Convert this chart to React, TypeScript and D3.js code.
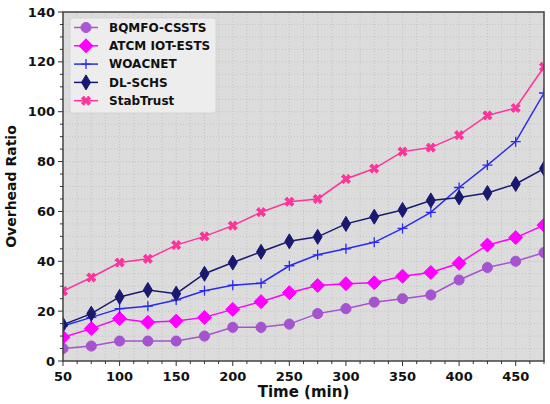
import React from 'react';
import * as d3 from 'd3';

const times = [50, 75, 100, 125, 150, 175, 200, 225, 250, 275, 300, 325, 350, 375, 400, 425, 450, 475];

const bqmfo = [5, 6, 8, 8, 8, 10, 13.5, 13.5, 14.8, 19, 21, 23.6, 25, 26.5, 32.5, 37.5, 40, 43.5];
const atcm = [9.5, 13, 17, 15.5, 16, 17.5, 20.7, 23.8, 27.4, 30.3, 31, 31.4, 34, 35.5, 39.2, 46.5, 49.5, 54.5];
const woacnet = [14, 17.5, 21, 22, 24.5, 28.2, 30.4, 31.2, 38.2, 42.6, 45, 47.6, 53.2, 59.6, 69.6, 78.6, 88, 107.5];
const dlschs = [14.5, 19, 25.7, 28.5, 27, 35, 39.5, 43.8, 48, 49.8, 55, 57.9, 60.6, 64.4, 65.6, 67.4, 71, 77.2];
const stabtrust = [28, 33.5, 39.5, 41, 46.5, 50, 54.3, 59.7, 63.9, 65, 73, 77.2, 84, 85.6, 90.6, 98.5, 101.5, 118];

const seriesNames = ['BQMFO-CSSTS', 'ATCM IOT-ESTS', 'WOACNET', 'DL-SCHS', 'StabTrust'];
const seriesValues = [bqmfo, atcm, woacnet, dlschs, stabtrust];
const seriesColors = ['#9932cc', '#ff00ff', '#2a2af0', '#191970', '#ff3399'];
const seriesOpacity = [0.8, 1, 1, 1, 1];
const seriesMarkers = ['circle', 'diamond', 'plus', 'thindiamond', 'xfilled'];

const xTicks = [50, 100, 150, 200, 250, 300, 350, 400, 450];
const yTicks = [0, 20, 40, 60, 80, 100, 120, 140];

const W = 550;
const H = 404;
const margin = { top: 12, right: 6, bottom: 43, left: 63 };

const markerPath = (kind: string) => {
  switch (kind) {
    case 'circle':
      return d3.symbol().type(d3.symbolCircle).size(80)() as string;
    case 'diamond':
      return 'M0,-7L7,0L0,7L-7,0Z';
    case 'plus':
      return 'M-5,0L5,0M0,-5L0,5';
    case 'thindiamond':
      return 'M0,-7.5L4.5,0L0,7.5L-4.5,0Z';
    case 'xfilled': {
      // filled "X" shape with thick arms
      const a = 2.4;
      const b = 4.6;
      const c = 1.6;
      return `M${-b},${-b + a}L${-b + a},${-b}L0,${-c}L${b - a},${-b}L${b},${-b + a}L${c},0L${b},${b - a}L${b - a},${b}L0,${c}L${-b + a},${b}L${-b},${b - a}L${-c},0Z`;
    }
    default:
      return '';
  }
};

const Marker = ({ kind, color, x, y }: { kind: string; color: string; x: number; y: number }) => (
  <path
    d={markerPath(kind)}
    transform={`translate(${x},${y})`}
    fill={kind === 'plus' ? 'none' : color}
    stroke={color}
    strokeWidth={kind === 'plus' ? 1.3 : 1}
  />
);

export default function App() {
  const x = d3
    .scaleLinear()
    .domain([50, 475])
    .range([margin.left, W - margin.right]);
  const y = d3
    .scaleLinear()
    .domain([0, 140])
    .range([H - margin.bottom, margin.top]);

  const xMinor = d3.range(50, 475.1, 12.5);
  const yMinor = d3.range(0, 140.1, 5);

  const line = d3
    .line<number>()
    .x((_, i) => x(times[i]))
    .y((d) => y(d));

  const font = "'DejaVu Sans', sans-serif";
  const left = margin.left;
  const right = W - margin.right;
  const top = margin.top;
  const bottom = H - margin.bottom;

  return (
    <svg
      width={W}
      height={H}
      viewBox={`0 0 ${W} ${H}`}
      style={{ position: 'absolute', left: 0, top: 0, background: '#fff' }}
      fontFamily={font}
    >
      <defs>
        <clipPath id="plotClip">
          <rect x={left} y={top} width={right - left} height={bottom - top} />
        </clipPath>
      </defs>
      <rect x={left} y={top} width={right - left} height={bottom - top} fill="#dcdcdc" />
      <g>
        {xMinor.map((v) => (
          <line key={'gx' + v} x1={x(v)} x2={x(v)} y1={top} y2={bottom} stroke="#bdbdbd" strokeWidth={0.8} strokeDasharray="1,2" />
        ))}
        {yMinor.map((v) => (
          <line key={'gy' + v} x1={left} x2={right} y1={y(v)} y2={y(v)} stroke="#bdbdbd" strokeWidth={0.8} strokeDasharray="1,2" />
        ))}
      </g>

      <g clipPath="url(#plotClip)">
        {seriesValues.map((vals, si) => (
          <g key={seriesNames[si]} opacity={seriesOpacity[si]}>
            <path d={line(vals) as string} fill="none" stroke={seriesColors[si]} strokeWidth={1.5} />
            {vals.map((v, i) => (
              <Marker key={i} kind={seriesMarkers[si]} color={seriesColors[si]} x={x(times[i])} y={y(v)} />
            ))}
          </g>
        ))}
      </g>

      <rect x={left} y={top} width={right - left} height={bottom - top} fill="none" stroke="#444" strokeWidth={1.5} />

      {/* ticks */}
      {xMinor.map((v) => (
        <line key={'tx' + v} x1={x(v)} x2={x(v)} y1={bottom} y2={bottom + (xTicks.includes(v) ? 5 : 3)} stroke="#333" strokeWidth={1} />
      ))}
      {yMinor.map((v) => (
        <line key={'ty' + v} x1={left} x2={left - (yTicks.includes(v) ? 5 : 3)} y1={y(v)} y2={y(v)} stroke="#333" strokeWidth={1} />
      ))}
      {xTicks.map((v) => (
        <text key={'lx' + v} x={x(v)} y={bottom + 20} textAnchor="middle" fontSize={13} fontWeight="bold" fill="#111">
          {v}
        </text>
      ))}
      {yTicks.map((v) => (
        <text key={'ly' + v} x={left - 8} y={y(v)} dy="0.35em" textAnchor="end" fontSize={13} fontWeight="bold" fill="#111">
          {v}
        </text>
      ))}

      <text x={(left + right) / 2} y={H - 7} textAnchor="middle" fontSize={15} fontWeight="bold" fill="#111">
        Time (min)
      </text>
      <text
        transform={`translate(16,${(top + bottom) / 2}) rotate(-90)`}
        textAnchor="middle"
        fontSize={14}
        fontWeight="bold"
        fill="#111"
      >
        Overhead Ratio
      </text>

      {/* legend */}
      <g>
        <rect x={70} y={18} width={146} height={95} rx={3} fill="#f0f0f0" fillOpacity={0.85} stroke="#d0d0d0" strokeWidth={0.8} />
        {seriesNames.map((name, i) => {
          const ly = 27.5 + i * 18.3;
          return (
            <g key={'lg' + name}>
              <g opacity={seriesOpacity[i]}>
                <line x1={74} x2={98} y1={ly} y2={ly} stroke={seriesColors[i]} strokeWidth={1.5} />
                <Marker kind={seriesMarkers[i]} color={seriesColors[i]} x={86} y={ly} />
              </g>
              <text x={109} y={ly} dy="0.36em" fontSize={12} fontWeight="bold" fill="#111">
                {name}
              </text>
            </g>
          );
        })}
      </g>
    </svg>
  );
}
